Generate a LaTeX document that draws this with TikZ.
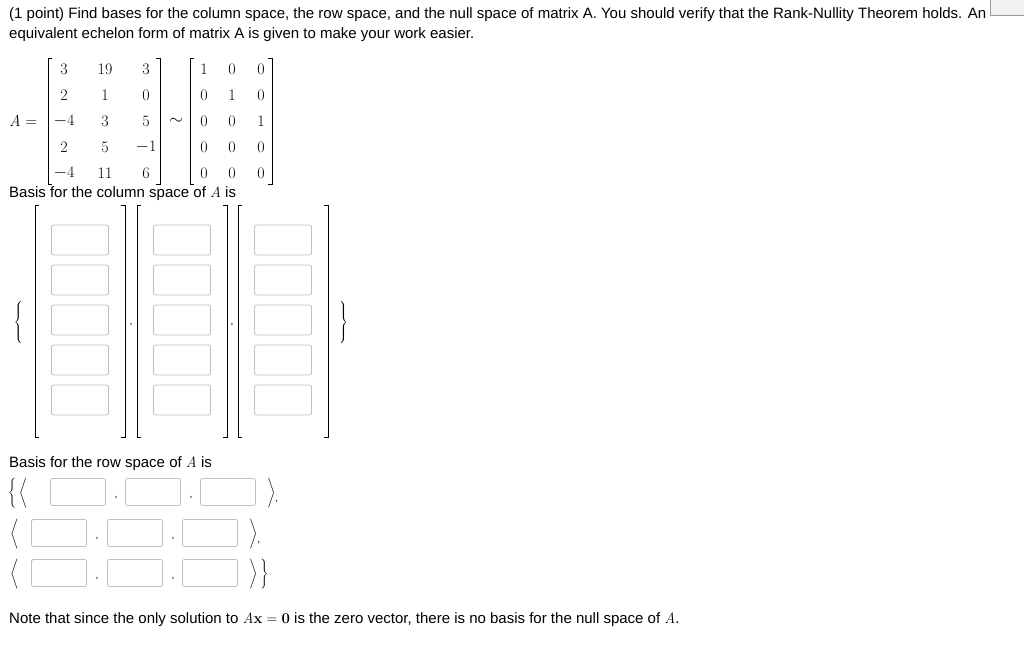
\documentclass[tikz,border=0pt]{standalone}
\usepackage{fontspec}
\setmainfont{Liberation Sans}
\newfontfamily\mathf{Latin Modern Roman}
\begin{document}
\begin{tikzpicture}[x=1pt,y=-1pt,
  txt/.style={anchor=west,inner sep=0,font=\fontsize{15}{16}\selectfont},
  ent/.style={inner sep=0,font=\mathf\fontsize{16}{16}\selectfont},
  inbox/.style={draw=black!25,rounded corners=2pt,line width=0.8pt,fill=white},
  brk/.style={line width=0.7pt},
  dl/.style={inner sep=0}]
\useasboundingbox (0,0) rectangle (1024,655);
\fill[white] (0,0) rectangle (1024,655);
\draw[black!40,fill=black!5] (990,-1) rectangle (1025,15);
\node[txt] (t1) at (9,15) {(1 point) Find bases for the column space, the row space, and the null space of matrix A. You should verify that the Rank-Nullity Theorem holds. An};
\node[txt] (t2) at (9,35) {equivalent echelon form of matrix A is given to make your work easier.};
% matrix A
\node[ent,anchor=west] (Aeq) at (9,121) {\itshape A\upshape\ =};
\draw[brk] (52,58)--(48,58)--(48,184)--(52,184);
\draw[brk] (156,58)--(160,58)--(160,184)--(156,184);
\foreach \a/\b/\c [count=\i from 0] in {3/19/3,2/1/0,{\(-\)4}/3/5,2/5/{\(-\)1},{\(-\)4}/11/6}{
  \node[ent] (a\i1) at (64,69+26*\i) {\a};
  \node[ent] (a\i2) at (105,69+26*\i) {\b};
  \node[ent] (a\i3) at (146,69+26*\i) {\c};}
\node[ent] (tl) at (176,121) {\(\sim\)};
\draw[brk] (194,58)--(190,58)--(190,184)--(194,184);
\draw[brk] (268,58)--(272,58)--(272,184)--(268,184);
\foreach \a/\b/\c [count=\i from 0] in {1/0/0,0/1/0,0/0/1,0/0/0,0/0/0}{
  \node[ent] (e\i1) at (204,69+26*\i) {\a};
  \node[ent] (e\i2) at (232,69+26*\i) {\b};
  \node[ent] (e\i3) at (261,69+26*\i) {\c};}
\node[txt] (t3) at (9,194) {Basis for the column space of {\mathf\itshape A} is};
% column vectors
\node[dl] (lb) at (19,322) {$\left\{\rule{0pt}{24pt}\right.$};
\node[dl] (rb) at (343,322) {$\left.\rule{0pt}{24pt}\right\}$};
\foreach \k/\x in {0/35,1/137,2/238}{
  \draw[brk] (\x+4,205)--(\x,205)--(\x,437)--(\x+4,437);
  \draw[brk] (\x+86,205)--(\x+90,205)--(\x+90,437)--(\x+86,437);
  \foreach \j in {0,...,4}{
    \node[inbox,minimum width=57pt,minimum height=30pt] (c\k\j) at (\x+45,240+40*\j) {};}}
\node[inner sep=0] (cm1) at (131,325) {,};
\node[inner sep=0] (cm2) at (232,325) {,};
% row space
\node[txt] (t4) at (9,464) {Basis for the row space of {\mathf\itshape A} is};
\node[dl,anchor=west] (r1l) at (8,493) {$\left\{\rule{0pt}{16pt}\right.\left\langle\rule{0pt}{16pt}\right.$};
\foreach \x [count=\i] in {78,153,228}{\node[inbox,minimum width=55pt,minimum height=27pt] (r1\i) at (\x,492) {};}
\node[inner sep=0] (r1c1) at (116,498) {,};
\node[inner sep=0] (r1c2) at (191,498) {,};
\node[dl,anchor=west] (r1r) at (266,493) {$\left.\rule{0pt}{16pt}\right\rangle$\raisebox{-6pt}{,}};
\foreach \row/\y in {2/533,3/573}{
  \node[dl] (r\row l) at (15,\y+1) {$\left\langle\rule{0pt}{16pt}\right.$};
  \foreach \x [count=\i] in {59,135,210}{\node[inbox,minimum width=55pt,minimum height=27pt] (r\row\i) at (\x,\y) {};}
  \node[inner sep=0] (r\row c1) at (97,\y+6) {,};
  \node[inner sep=0] (r\row c2) at (173,\y+6) {,};}
\node[dl,anchor=west] (r2r) at (248,534) {$\left.\rule{0pt}{16pt}\right\rangle$\raisebox{-6pt}{,}};
\node[dl,anchor=west] (r3r) at (248,574) {$\left.\rule{0pt}{16pt}\right\rangle\left.\rule{0pt}{16pt}\right\}$};
\node[txt] (t5) at (9,620) {Note that since the only solution to {\mathf\itshape A}{\mathf\bfseries x} {\mathf =} {\mathf\bfseries 0} is the zero vector, there is no basis for the null space of {\mathf\itshape A}.};
\end{tikzpicture}
\end{document}
